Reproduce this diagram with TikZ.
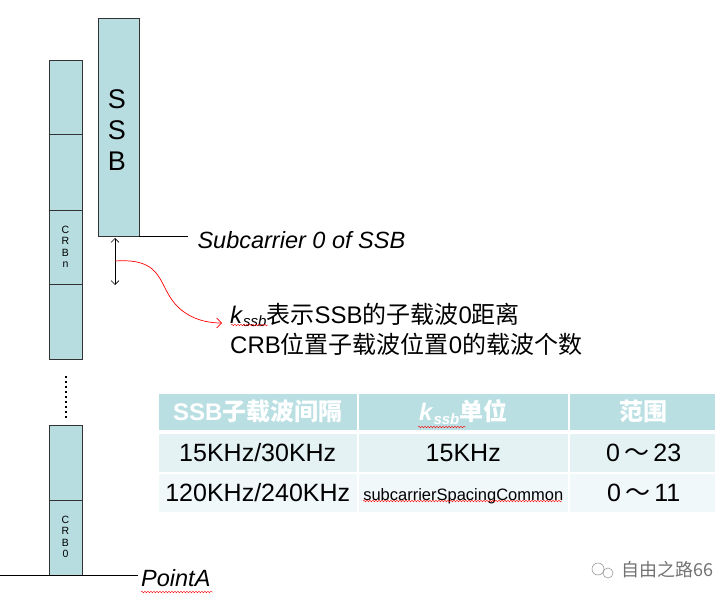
\documentclass[tikz,border=0pt]{standalone}
\usepackage{fontspec}
\setmainfont{Liberation Sans}
\newfontfamily\cjk{Noto Sans CJK SC}
\usetikzlibrary{decorations.pathmorphing,arrows.meta}
\definecolor{boxc}{HTML}{B7DDE1}
\definecolor{hdr}{HTML}{B9DFE3}
\definecolor{rowa}{HTML}{E5F2F4}
\definecolor{rowb}{HTML}{F1F8F9}
\tikzset{
  blk/.style={draw=black!80,fill=boxc,line width=0.8pt},
  cell/.style={draw=white,line width=1.5pt,anchor=north west,inner sep=0pt},
  wavy/.style={red,line width=0.4pt,decorate,decoration={snake,amplitude=0.8pt,segment length=3pt}},
  tt/.style={font=\fontsize{25}{28}\selectfont}
}
\begin{document}
\begin{tikzpicture}[x=1pt,y=-1pt]
\useasboundingbox (0,0) rectangle (715,607);
% left column
\foreach \a/\b in {60/134,134/210,210/284,284/359,425/500,500/575}
  \draw[blk] (49,\a) rectangle (82,\b);
\node[font=\fontsize{10.5}{11.5}\selectfont,align=center,inner sep=0pt] (crbn) at (65.5,247) {C\\R\\B\\n};
\node[font=\fontsize{10.5}{11.5}\selectfont,align=center,inner sep=0pt] (crb0) at (65.5,537) {C\\R\\B\\0};
\draw[line width=2pt,dash pattern=on 2pt off 3pt] (65.5,376) -- (65.5,420);
% SSB
\draw[blk] (98,18) rectangle (139,236);
\node[font=\fontsize{27}{31}\selectfont,align=center] (ssb) at (117,130) {S\\S\\B};
\coordinate (s1) at (139,236); \coordinate (s2) at (188,236);
\draw[line width=0.8pt] (s1) -- (s2);
\node[font=\fontsize{23.5}{26}\selectfont\itshape,anchor=west] (sub) at (194,240) {Subcarrier 0 of SSB};
\coordinate (a1) at (115,238); \coordinate (a2) at (115,285);
\draw[{Straight Barb[length=4pt]}-{Straight Barb[length=4pt]},line width=0.6pt] (a1) -- (a2);
\coordinate (c0) at (115,261);
\node[font=\fontsize{24}{30}\selectfont,anchor=west,align=left,inner sep=0pt] (desc) at (230,329) {\textit{k}\raisebox{-0.3ex}{\fontsize{15}{15}\selectfont\textit{ssb}}{\cjk 表示}SSB{\cjk 的子载波}0{\cjk 距离}\\CRB{\cjk 位置子载波位置}0{\cjk 的载波个数}};
\coordinate (ae) at (222,323);
\draw[red,line width=0.7pt,-{Straight Barb[length=5pt]}] (c0) .. controls (160,258) and (158,280) .. (172,300) .. controls (185,318) and (205,323) .. (ae);
\draw[wavy] (231,325) -- (268,325);
% baseline
\coordinate (p1) at (0,575); \coordinate (p2) at (138,575);
\draw[line width=0.8pt] (p1) -- (p2);
\node[font=\fontsize{23.5}{26}\selectfont\itshape,anchor=west,inner sep=0pt] (pa) at (141,578) {PointA};
\draw[wavy] (141,592) -- (213,592);
% table
\node[cell,fill=hdr,minimum width=200pt,minimum height=38pt] (h1) at (157,392) {};
\node[cell,fill=hdr,minimum width=211pt,minimum height=38pt] (h2) at (357,392) {};
\node[cell,fill=hdr,minimum width=150pt,minimum height=38pt] (h3) at (568,392) {};
\node[cell,fill=rowa,minimum width=200pt,minimum height=40pt] (r11) at (157,432) {};
\node[cell,fill=rowa,minimum width=211pt,minimum height=40pt] (r12) at (357,432) {};
\node[cell,fill=rowa,minimum width=150pt,minimum height=40pt] (r13) at (568,432) {};
\node[cell,fill=rowb,minimum width=200pt,minimum height=40pt] (r21) at (157,472) {};
\node[cell,fill=rowb,minimum width=211pt,minimum height=40pt] (r22) at (357,472) {};
\node[cell,fill=rowb,minimum width=150pt,minimum height=40pt] (r23) at (568,472) {};
\begin{scope}[every node/.style={tt}]
\node[text=white,font=\fontsize{24}{26}\selectfont\bfseries] at (h1.center) {SSB{\cjk 子载波间隔}};
\node[text=white,font=\fontsize{24}{26}\selectfont\bfseries] at (h2.center) {\textit{k}\raisebox{-0.3ex}{\fontsize{15}{15}\selectfont\textit{ssb}}{\cjk 单位}};
\node[text=white,font=\fontsize{24}{26}\selectfont\bfseries] at (h3.center) {{\cjk 范围}};
\node at (r11.center) {15KHz/30KHz};
\node at (r12.center) {15KHz};
\node at (r13.center) {0\,{\cjk ～}\,23};
\node at (r21.center) {120KHz/240KHz};
\node[font=\fontsize{16.5}{17}\selectfont] at ([yshift=-3pt]r22.center) {subcarrierSpacingCommon};
\node at (r23.center) {0\,{\cjk ～}\,11};
\end{scope}
\draw[wavy] (418,427) -- (466,427);
\draw[wavy] (363,501) -- (562,501);
% watermark
\node[text=black!55,font=\fontsize{18}{20}\selectfont\cjk,anchor=east,inner sep=1pt] (wm) at (715,570) {自由之路66};
\draw[black!40,line width=0.6pt] (598,569) circle (6pt);
\draw[black!40,line width=0.6pt] (608,573) circle (5pt);
\end{tikzpicture}
\end{document}
